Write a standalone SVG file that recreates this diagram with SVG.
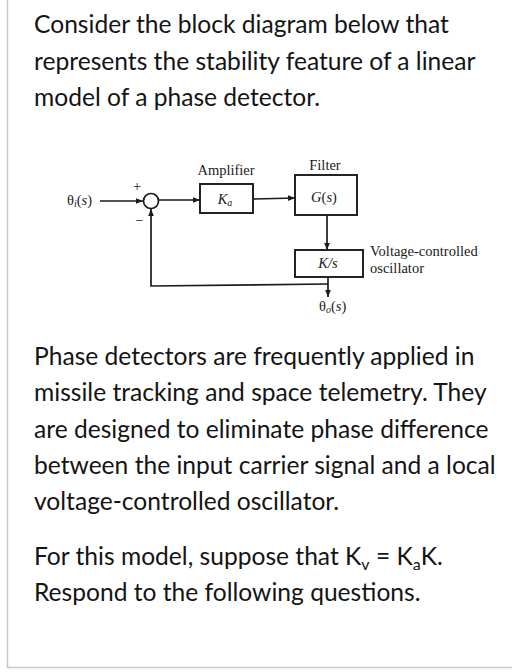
<svg xmlns="http://www.w3.org/2000/svg" width="512" height="672" viewBox="0 0 512 672">
<defs>
<style>
.p{font-family:Lato,"Open Sans","Liberation Sans",sans-serif;font-size:24.6px;fill:#141414}
.d{font-family:"Liberation Serif","Times New Roman",serif;font-size:14.5px;fill:#1a1a1a}
.i{font-style:italic}
.ln{stroke:#1a1a1a;stroke-width:1.7;fill:none}
.bx{stroke:#1a1a1a;stroke-width:1.9;fill:#fff}
</style>
<marker id="ah" viewBox="0 0 10 10" refX="10" refY="5" markerWidth="8" markerHeight="7" markerUnits="userSpaceOnUse" orient="auto"><path d="M0,1 L10,5 L0,9 Z" fill="#1a1a1a"/></marker>
</defs>
<rect width="512" height="672" fill="#fff"/>
<path d="M7.5,0 V667.5 H512" fill="none" stroke="#c8c8c8" stroke-width="1.5"/>
<g id="text-top">
<text class="p" x="34" y="33">Consider the block diagram below that</text>
<text class="p" x="34" y="70">represents the stability feature of a linear</text>
<text class="p" x="34" y="106">model of a phase detector.</text>
</g>
<g id="connectors">
<line class="ln" x1="100" y1="201" x2="143" y2="201" marker-end="url(#ah)"/>
<line class="ln" x1="159" y1="200" x2="200" y2="200" marker-end="url(#ah)"/>
<line class="ln" x1="253" y1="199" x2="295" y2="198" marker-end="url(#ah)"/>
<line class="ln" x1="327" y1="215" x2="327" y2="250" marker-end="url(#ah)"/>
<line class="ln" x1="328" y1="277" x2="328" y2="297" marker-end="url(#ah)"/>
<polyline class="ln" points="328,284 151,286 151,209" marker-end="url(#ah)"/>
</g>
<g id="input">
<text class="d" x="67" y="205">θ<tspan class="i" font-size="10" dy="2">i</tspan><tspan dy="-2">(</tspan><tspan class="i">s</tspan>)</text>
</g>
<g id="sum">
<circle cx="151" cy="201" r="7.5" fill="#fff" stroke="#1a1a1a" stroke-width="1.7"/>
<text class="d" x="137" y="191" text-anchor="middle" font-size="12">+</text>
<text class="d" x="139" y="225" text-anchor="middle" font-size="13">−</text>
</g>
<g id="amplifier">
<rect class="bx" x="200" y="184" width="53" height="29"/>
<text class="d" x="226" y="175" text-anchor="middle">Amplifier</text>
<text class="d i" x="225" y="204" text-anchor="middle">K<tspan font-size="10" dy="2">a</tspan></text>
</g>
<g id="filter">
<rect class="bx" x="295" y="175" width="62" height="40"/>
<text class="d" x="325" y="170" text-anchor="middle">Filter</text>
<text class="d" x="324" y="202" text-anchor="middle"><tspan class="i">G</tspan>(<tspan class="i">s</tspan>)</text>
</g>
<g id="vco">
<rect class="bx" x="295" y="250" width="68" height="27"/>
<text class="d i" x="328" y="268" text-anchor="middle">K/s</text>
<text class="d" x="370" y="256" font-size="15.3">Voltage-controlled</text>
<text class="d" x="370" y="273" font-size="15.3">oscillator</text>
</g>
<g id="output">
<text class="d" x="319" y="311">θ<tspan class="i" font-size="10" dy="2">o</tspan><tspan dy="-2">(</tspan><tspan class="i">s</tspan>)</text>
</g>
<g id="text-mid">
<text class="p" x="34" y="365">Phase detectors are frequently applied in</text>
<text class="p" x="34" y="401">missile tracking and space telemetry. They</text>
<text class="p" x="34" y="438">are designed to eliminate phase difference</text>
<text class="p" x="34" y="474">between the input carrier signal and a local</text>
<text class="p" x="34" y="510">voltage-controlled oscillator.</text>
</g>
<g id="text-bottom">
<text class="p" x="34" y="565">For this model, suppose that K<tspan font-size="16" dy="5">v</tspan><tspan dy="-5"> = K</tspan><tspan font-size="16" dy="5">a</tspan><tspan dy="-5">K.</tspan></text>
<text class="p" x="34" y="601">Respond to the following questions.</text>
</g>
</svg>
